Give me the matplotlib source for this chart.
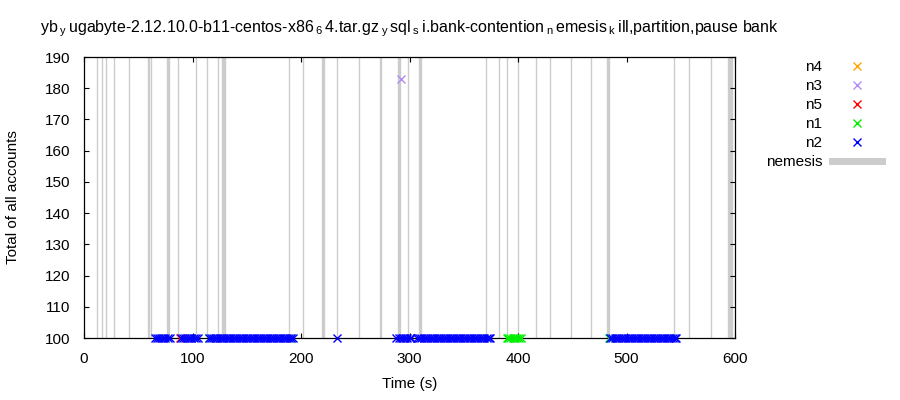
import matplotlib
matplotlib.use('Agg')
import matplotlib.pyplot as plt

plt.rcParams['font.family'] = ['Liberation Sans', 'DejaVu Sans']
plt.rcParams['mathtext.default'] = 'regular'
plt.rcParams['font.size'] = 11

title = (r'yb$\,_{y}\,$ugabyte-2.12.10.0-b11-centos-x86$\,_{6}\,$4.tar.gz$\,_{y}\,$sql$\,_{s}\,$'
         r'i.bank-contention$\,_{n}\,$emesis$\,_{k}\,$ill,partition,pause bank')

# nemesis activity (start, stop) in seconds
nemesis = [
    (11.7, 11.7), (16.9, 16.9), (20.3, 20.3), (27.9, 27.9), (41.2, 41.2),
    (58.7, 58.7), (60.2, 60.2), (61.8, 61.8), (76.6, 78.0), (86.9, 86.9),
    (103.2, 103.2), (113.1, 113.1), (123.8, 123.8), (127.6, 129.6),
    (189.2, 189.2), (202.1, 202.1), (219.6, 221.4), (233.5, 233.5),
    (253.5, 253.5), (272.4, 274.0), (289.8, 291.2), (298.6, 298.6),
    (308.8, 310.8), (370.5, 370.5), (382.5, 382.5), (389.6, 389.6),
    (399.7, 399.7), (416.3, 416.3), (429.2, 429.2), (448.6, 448.6),
    (467.3, 467.3), (482.0, 484.0), (543.8, 543.8), (557.9, 557.9),
    (577.6, 577.6), (593.8, 597.0),
]

# read times (s) per node, total of all accounts per read
n4_t = []
n4_v = []
n3_t = [292]
n3_v = [183]
n5_t = [88.5]
n5_v = [100]
n1_t = [115, 127, 190.5, 389.5, 391, 393, 395, 397, 399, 401, 403, 483.5, 485]
n1_v = [100] * len(n1_t)
n2_t = [65, 67, 69, 71, 73, 75, 77, 79.5,
        89, 91, 93, 95, 97, 99, 101, 103, 105.5,
        115, 117, 119, 121, 123, 125, 127, 129, 131, 133, 135, 137, 139, 141,
        143, 145, 147, 149, 151, 153, 155, 157, 159, 161, 163, 165, 167, 169,
        171, 173, 175, 177, 179, 181, 183, 185, 187, 189, 191, 192.5,
        233,
        288, 290, 292, 294, 296, 298, 300, 301.5,
        307, 309, 311, 313, 315, 317, 319, 321, 323, 325, 327, 329, 331, 333,
        335, 337, 339, 341, 343, 345, 347, 349, 351, 353, 355, 357, 359, 361,
        363, 365, 367, 369, 371, 373, 374,
        485, 487, 489, 491, 493, 495, 497, 499, 501, 503, 505, 507, 509, 511,
        513, 515, 517, 519, 521, 523, 525, 527, 529, 531, 533, 535, 537, 539,
        541, 543, 545, 546]
n2_v = [100] * len(n2_t)

series = [
    ('n4', n4_t, n4_v, '#ffa500'),
    ('n3', n3_t, n3_v, '#b38cf2'),
    ('n5', n5_t, n5_v, '#ff0000'),
    ('n1', n1_t, n1_v, '#00ee00'),
    ('n2', n2_t, n2_v, '#0000ff'),
]

fig = plt.figure(figsize=(9, 4), dpi=100)
ax = fig.add_axes([84 / 900, 1 - 338 / 400, 651 / 900, 281 / 400])

for start, stop in nemesis:
    ax.axvspan(start, stop, color='#cccccc', lw=1, zorder=1)

for name, t, v, c in series:
    ax.plot(t, v, ls='none', marker='x', ms=6, mew=1, color=c, label=name,
            clip_on=False, zorder=3)
ax.plot([], [], color='#cccccc', lw=5, label='nemesis')

ax.set_xlim(0, 600)
ax.set_ylim(100, 190)
ax.set_xticks(range(0, 601, 100))
ax.set_yticks(range(100, 191, 10))
ax.tick_params(direction='in', top=True, right=True, length=3.5, width=0.8, pad=10)
for s in ax.spines.values():
    s.set_linewidth(0.9)

ax.set_xlabel('Time (s)', labelpad=8)
ax.set_ylabel('Total of all accounts', labelpad=18)
t = ax.set_title(title, pad=18)

# scale the title to the reference width (~739 px)
for _ in range(4):
    fig.canvas.draw()
    w = t.get_window_extent().width
    t.set_fontsize(t.get_fontsize() * 739 / w)

ax.legend(loc='upper right', bbox_to_anchor=(882 / 900, 1 - 60 / 400),
          bbox_transform=fig.transFigure, frameon=False, markerfirst=False,
          handlelength=3.27, handletextpad=0.65, labelspacing=0.33,
          borderpad=0, borderaxespad=0)

fig.savefig('out.png', dpi=100)
